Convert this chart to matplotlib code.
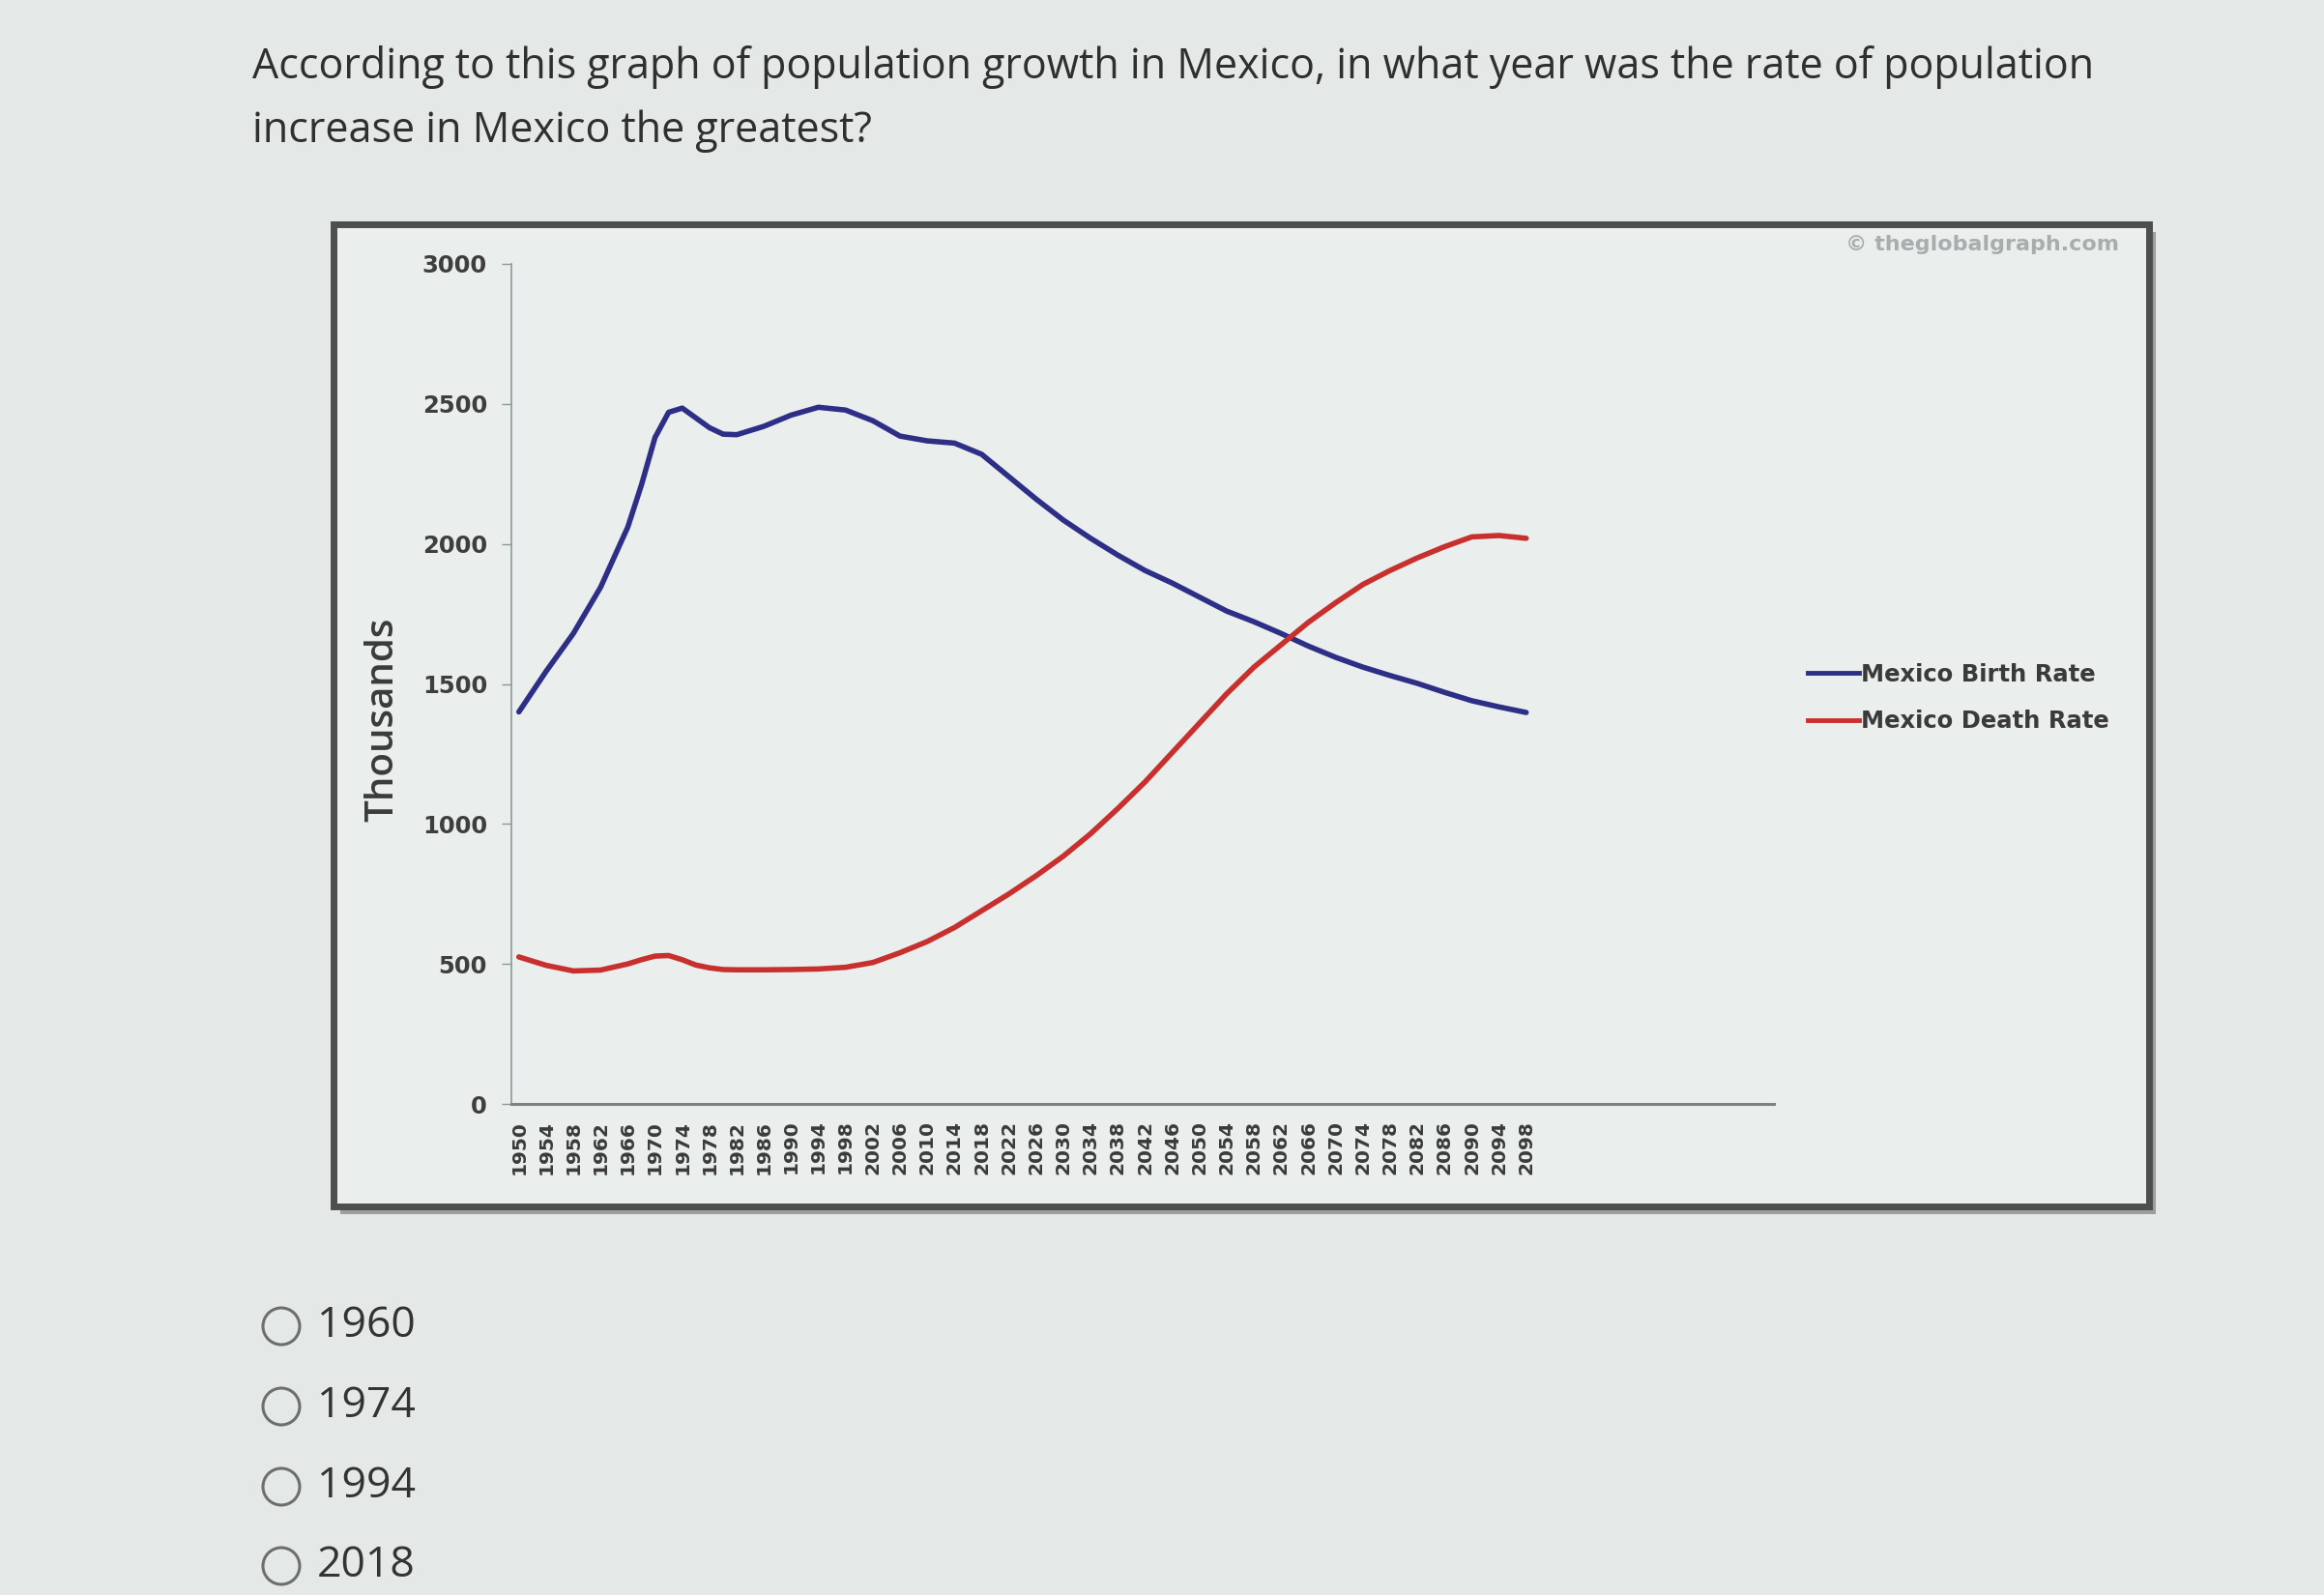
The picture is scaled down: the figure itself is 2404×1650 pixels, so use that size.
import matplotlib
matplotlib.use("Agg")
import matplotlib.pyplot as plt
from matplotlib.patches import Rectangle, Ellipse
from matplotlib.lines import Line2D

# ---------------- data ----------------
years = [1950, 1954, 1958, 1962, 1966, 1968, 1970, 1972, 1974, 1976, 1978, 1980,
         1982, 1986, 1990, 1994, 1998, 2002, 2006, 2010, 2014, 2018, 2022, 2026,
         2030, 2034, 2038, 2042, 2046, 2050, 2054, 2058, 2062, 2066, 2070, 2074,
         2078, 2082, 2086, 2090, 2094, 2098]
birth_rate = [1400, 1545, 1680, 1845, 2060, 2210, 2380, 2470, 2485, 2450, 2415, 2392,
              2390, 2420, 2460, 2488, 2478, 2440, 2385, 2368, 2360, 2320, 2240, 2160,
              2085, 2020, 1960, 1905, 1860, 1810, 1760, 1722, 1680, 1635, 1595, 1560,
              1530, 1502, 1470, 1440, 1418, 1398]
death_rate = [525, 495, 475, 478, 500, 515, 528, 530, 515, 496, 486, 480,
              479, 479, 480, 482, 488, 505, 540, 580, 630, 690, 750, 815,
              885, 965, 1055, 1150, 1255, 1360, 1465, 1560, 1640, 1720, 1790, 1855,
              1905, 1950, 1990, 2025, 2030, 2020]
tick_years = list(range(1950, 2099, 4))
y_ticks = [0, 500, 1000, 1500, 2000, 2500, 3000]
series_names = ["Mexico Birth Rate", "Mexico Death Rate"]
question = ["According to this graph of population growth in Mexico, in what year was the rate of population",
            "increase in Mexico the greatest?"]
options = ["1960", "1974", "1994", "2018"]

# ---------------- figure ----------------
W, H = 2404, 1650
fig = plt.figure(figsize=(W / 100, H / 100), dpi=100)
fig.patch.set_facecolor("#e4e8e7")

def fx(px):
    return px / W

def fy(py):
    return 1 - py / H

# question text
qfont = ["Open Sans", "DejaVu Sans"]
fig.text(fx(261), fy(70), question[0], fontsize=31, color="#2f2f2f",
         family=qfont, va="center", ha="left")
fig.text(fx(261), fy(136), question[1], fontsize=31, color="#2f2f2f",
         family=qfont, va="center", ha="left")

# chart box (shadow + frame)
fig.patches.append(Rectangle((fx(352), fy(1256)), fx(2230) - fx(352), fy(240) - fy(1256),
                             transform=fig.transFigure, facecolor="#9a9e9d",
                             edgecolor="none", zorder=0))
fig.patches.append(Rectangle((fx(345), fy(1248)), fx(2223) - fx(345), fy(232) - fy(1248),
                             transform=fig.transFigure, facecolor="#eaeeed",
                             edgecolor="#4d4f4f", linewidth=5, zorder=1))

# axes
x0, x1 = 529, 1835
ytop, ybot = 273, 1142
ax = fig.add_axes([fx(x0), fy(ybot), fx(x1) - fx(x0), fy(ytop) - fy(ybot)])
ax.set_zorder(5)
ax.set_facecolor("none")
ax.plot(years, birth_rate, color="#2d2f86", lw=4, solid_joinstyle="round",
        solid_capstyle="round", label=series_names[0], zorder=3)
ax.plot(years, death_rate, color="#c8302e", lw=4, solid_joinstyle="round",
        solid_capstyle="round", label=series_names[1], zorder=3)

ax.set_xlim(1948.9, 2134.4)
ax.set_ylim(0, 3000)
for s in ["top", "right"]:
    ax.spines[s].set_visible(False)
ax.spines["left"].set_color("#8a9a9c")
ax.spines["bottom"].set_color("#7d8384")
ax.spines["left"].set_linewidth(1.2)
ax.spines["bottom"].set_linewidth(2.2)

ax.set_yticks(y_ticks)
ax.set_yticklabels([str(v) for v in y_ticks], fontsize=17.5, color="#3e3e3e",
                   family="DejaVu Sans", fontweight="bold")
ax.tick_params(axis="y", length=7, width=1, color="#8a9a9c", pad=11)
ax.set_xticks(tick_years)
ax.set_xticklabels([str(v) for v in tick_years], rotation=90, fontsize=14.5,
                   color="#3a3a3a", family="DejaVu Sans", fontweight="bold")
ax.tick_params(axis="x", length=0, pad=12)

fig.text(fx(396), fy(744), "Thousands", rotation=90, fontsize=29, color="#3a3a3a",
         family=qfont, fontweight="semibold", va="center", ha="center", zorder=6)

# watermark
fig.text(fx(2192), fy(253), "\u00a9 theglobalgraph.com", fontsize=16, color="#a9adad",
         family="DejaVu Sans", fontweight="bold", ha="right", va="center", zorder=6)

# legend
handles = [Line2D([], [], color="#2d2f86", lw=3.5), Line2D([], [], color="#c8302e", lw=3.5)]
leg = fig.legend(handles, series_names, loc="upper left",
                 bbox_to_anchor=(fx(1870), fy(686)), frameon=False,
                 prop={"family": "DejaVu Sans", "size": 17.5, "weight": "bold"},
                 labelcolor="#3a3a3a", handlelength=2.2, handletextpad=0.05,
                 labelspacing=1.0, borderpad=0, borderaxespad=0)
leg.set_zorder(6)

# answer options
opt_y = [1372, 1455, 1538, 1620]
for txt, yy in zip(options, opt_y):
    fig.patches.append(Ellipse((fx(291), fy(yy)), 38 / W, 38 / H, transform=fig.transFigure,
                               facecolor="none", edgecolor="#6d6f6f", linewidth=2.2))
    fig.text(fx(328), fy(yy), txt, fontsize=32, color="#333333", family=qfont,
             va="center", ha="left")

fig.savefig("out.png", dpi=100, facecolor=fig.get_facecolor())
